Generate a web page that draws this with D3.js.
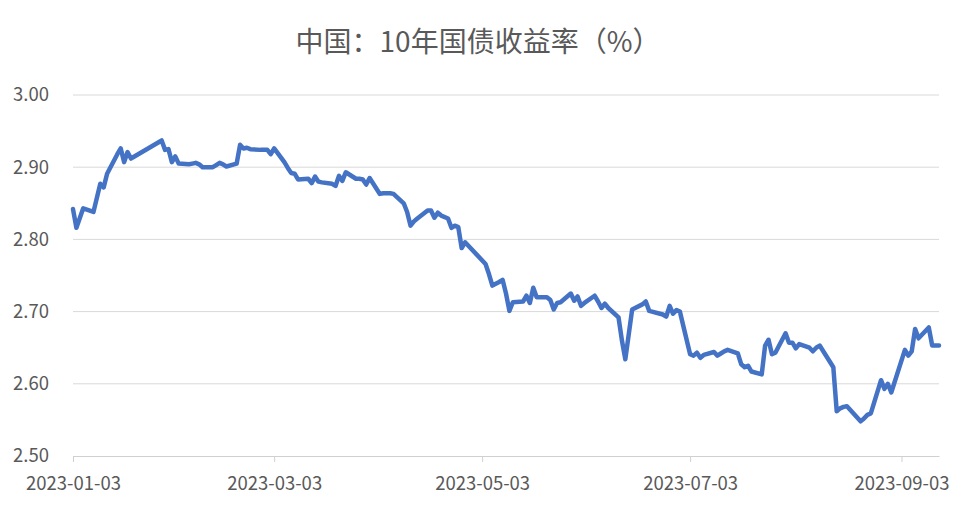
<!DOCTYPE html>
<meta charset="utf-8">
<script src="https://d3js.org/d3.v7.min.js"></script>
<style>
  body { margin: 0; background: #fff; }
  text { font-family: "Noto Sans CJK SC", "Noto Sans", sans-serif; }
</style>
<div id="my_dataviz"></div>
<script>

// trading dates and 10y yields (%)
var dates = [
  "2023-01-03","2023-01-04","2023-01-06","2023-01-09","2023-01-11","2023-01-12","2023-01-13",
  "2023-01-16","2023-01-17","2023-01-18","2023-01-19","2023-01-20","2023-01-29","2023-01-30",
  "2023-01-31","2023-02-01","2023-02-02","2023-02-03","2023-02-06","2023-02-07","2023-02-08",
  "2023-02-09","2023-02-10","2023-02-13","2023-02-14","2023-02-15","2023-02-16","2023-02-17",
  "2023-02-20","2023-02-21","2023-02-22","2023-02-23","2023-02-24","2023-02-27","2023-02-28",
  "2023-03-01","2023-03-02","2023-03-03","2023-03-06","2023-03-07","2023-03-08","2023-03-09",
  "2023-03-10","2023-03-13","2023-03-14","2023-03-15","2023-03-16","2023-03-17","2023-03-20",
  "2023-03-21","2023-03-22","2023-03-23","2023-03-24","2023-03-27","2023-03-28","2023-03-29",
  "2023-03-30","2023-03-31","2023-04-03","2023-04-04","2023-04-06","2023-04-07","2023-04-10",
  "2023-04-11","2023-04-12","2023-04-13","2023-04-14","2023-04-17","2023-04-18","2023-04-19",
  "2023-04-20","2023-04-21","2023-04-23","2023-04-24","2023-04-25","2023-04-26","2023-04-27",
  "2023-04-28","2023-05-04","2023-05-05","2023-05-06","2023-05-08","2023-05-09","2023-05-10",
  "2023-05-11","2023-05-12","2023-05-15","2023-05-16","2023-05-17","2023-05-18","2023-05-19",
  "2023-05-22","2023-05-23","2023-05-24","2023-05-25","2023-05-26","2023-05-29","2023-05-30",
  "2023-05-31","2023-06-01","2023-06-02","2023-06-05","2023-06-06","2023-06-07","2023-06-08",
  "2023-06-09","2023-06-12","2023-06-13","2023-06-14","2023-06-16","2023-06-19","2023-06-20",
  "2023-06-21","2023-06-25","2023-06-26","2023-06-27","2023-06-28","2023-06-29","2023-06-30",
  "2023-07-03","2023-07-04","2023-07-05","2023-07-06","2023-07-07","2023-07-10","2023-07-11",
  "2023-07-12","2023-07-13","2023-07-14","2023-07-17","2023-07-18","2023-07-19","2023-07-20",
  "2023-07-21","2023-07-24","2023-07-25","2023-07-26","2023-07-27","2023-07-28","2023-07-31",
  "2023-08-01","2023-08-02","2023-08-03","2023-08-04","2023-08-07","2023-08-08","2023-08-09",
  "2023-08-10","2023-08-14","2023-08-15","2023-08-16","2023-08-17","2023-08-18","2023-08-22",
  "2023-08-23","2023-08-24","2023-08-25","2023-08-28","2023-08-29","2023-08-30","2023-08-31",
  "2023-09-04","2023-09-05","2023-09-06","2023-09-07","2023-09-08","2023-09-11","2023-09-12",
  "2023-09-13","2023-09-14"
];
var yields = [
  2.842,2.816,2.843,2.838,2.877,2.872,2.891,
  2.918,2.926,2.907,2.921,2.912,2.937,2.924,
  2.925,2.907,2.915,2.905,2.904,2.905,2.906,
  2.904,2.900,2.900,2.903,2.906,2.904,2.901,
  2.905,2.931,2.926,2.927,2.925,2.924,2.924,
  2.924,2.918,2.926,2.907,2.899,2.892,2.891,
  2.883,2.884,2.878,2.887,2.880,2.879,2.877,
  2.874,2.888,2.881,2.893,2.884,2.884,2.883,
  2.876,2.885,2.863,2.864,2.864,2.863,2.850,
  2.838,2.819,2.825,2.829,2.840,2.840,2.830,
  2.837,2.833,2.829,2.816,2.819,2.817,2.788,
  2.796,2.766,2.752,2.736,2.741,2.744,2.725,
  2.701,2.713,2.714,2.722,2.712,2.733,2.720,
  2.720,2.716,2.703,2.712,2.713,2.725,2.715,
  2.721,2.708,2.712,2.722,2.714,2.705,2.711,
  2.705,2.692,2.660,2.634,2.703,2.710,2.714,
  2.701,2.696,2.693,2.708,2.697,2.702,2.700,
  2.641,2.639,2.643,2.636,2.640,2.644,2.639,
  2.642,2.645,2.647,2.642,2.627,2.623,2.625,
  2.617,2.613,2.653,2.661,2.641,2.643,2.670,
  2.657,2.657,2.649,2.655,2.650,2.645,2.650,
  2.653,2.623,2.562,2.566,2.568,2.569,2.548,
  2.552,2.557,2.559,2.605,2.593,2.600,2.588,
  2.647,2.639,2.645,2.676,2.663,2.678,2.653,
  2.653,2.653
];
var xTickLabels = ["2023-01-03","2023-03-03","2023-05-03","2023-07-03","2023-09-03"];
var yTicks = [2.5, 2.6, 2.7, 2.8, 2.9, 3.0];
var title = "中国：10年国债收益率（%）";

var W = 962, H = 510;
var margin = {top: 95, right: 23, bottom: 54, left: 73};

var parse = d3.timeParse("%Y-%m-%d");
var data = dates.map(function(d, i) { return {date: parse(d), value: yields[i]}; });

var svg = d3.select("#my_dataviz")
  .append("svg")
    .attr("width", W)
    .attr("height", H);

var x = d3.scaleTime()
  .domain([parse("2023-01-03"), parse("2023-09-14")])
  .range([margin.left, W - margin.right]);

var y = d3.scaleLinear()
  .domain([2.5, 3.0])
  .range([H - margin.bottom, margin.top]);

// title
svg.append("text")
  .attr("x", 478)
  .attr("y", 52)
  .attr("text-anchor", "middle")
  .style("font-size", "28px")
  .style("fill", "#595959")
  .text(title);

// horizontal gridlines
svg.append("g")
  .selectAll("line")
  .data(yTicks.slice(1))
  .enter()
  .append("line")
    .attr("x1", margin.left)
    .attr("x2", W - margin.right)
    .attr("y1", function(d) { return y(d); })
    .attr("y2", function(d) { return y(d); })
    .attr("stroke", "#d9d9d9")
    .attr("stroke-width", 1);

// y axis labels
var yAxis = svg.append("g")
  .attr("transform", "translate(" + margin.left + ",0)")
  .call(d3.axisLeft(y).tickValues(yTicks).tickFormat(d3.format(".2f")).tickSize(0).tickPadding(24));
yAxis.select(".domain").remove();
yAxis.selectAll("text")
  .style("font-size", "18.5px")
  .style("fill", "#595959")
  .style("font-family", "'Noto Sans CJK SC', 'Noto Sans', sans-serif");

// x axis
var xAxis = svg.append("g")
  .attr("transform", "translate(0," + y(2.5) + ")")
  .call(d3.axisBottom(x)
    .tickValues(xTickLabels.map(parse))
    .tickFormat(d3.timeFormat("%Y-%m-%d"))
    .tickSize(6).tickPadding(15).tickSizeOuter(0));
xAxis.select(".domain").attr("stroke", "#d0d0d0");
xAxis.selectAll(".tick line").attr("stroke", "#d0d0d0");
xAxis.selectAll("text")
  .style("font-size", "18.5px")
  .style("fill", "#595959")
  .style("font-family", "'Noto Sans CJK SC', 'Noto Sans', sans-serif");

// the line
svg.append("path")
  .datum(data)
  .attr("fill", "none")
  .attr("stroke", "#4472C4")
  .attr("stroke-width", 4.5)
  .attr("stroke-linejoin", "round")
  .attr("stroke-linecap", "round")
  .attr("d", d3.line()
    .x(function(d) { return x(d.date); })
    .y(function(d) { return y(d.value); }));

</script>
